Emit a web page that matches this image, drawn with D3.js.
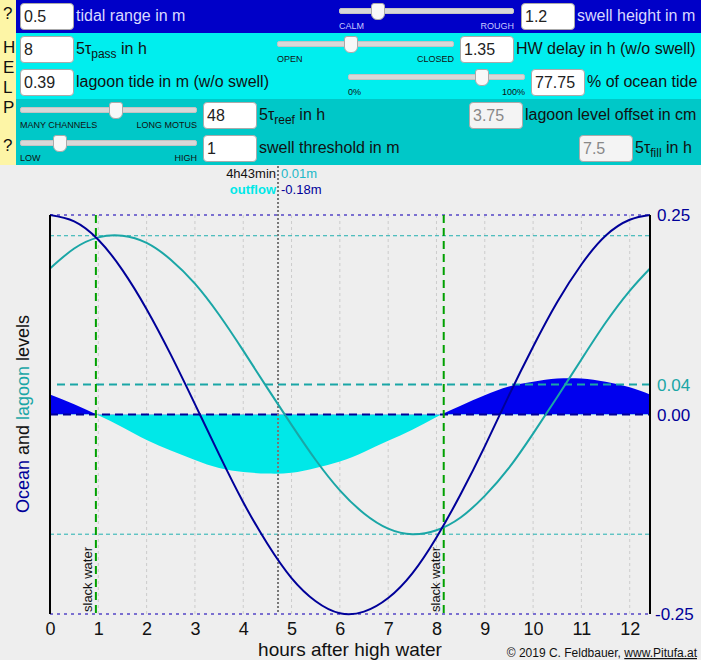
<!DOCTYPE html>
<html><head><meta charset="utf-8">
<script src="https://cdn.jsdelivr.net/npm/d3@7"></script>
<style>
body{margin:0;background:#eeeeee;font-family:"Liberation Sans",Arial,sans-serif;width:701px;height:660px;overflow:hidden;position:relative}
.row{position:absolute;left:16px;width:685px;height:33px}
.inp{position:absolute;top:3px;height:25px;width:49px;background:#fff;border:1px solid #aaa;border-radius:4px;font-size:16px;line-height:25px;padding-left:3px;box-sizing:content-box;color:#222}
.inp.dis{color:#888;background:#f4f4f4}
.lbl{position:absolute;top:7px;font-size:16px;color:#111;white-space:nowrap}
.trk{position:absolute;height:4px;background:#d8d8d8;border-radius:2px;border:1px solid #c4c4c4}
.thm{position:absolute;width:12px;height:15px;background:#f8f8f8;border:1px solid #aaa;border-radius:3px 3px 6px 6px}
.sm{position:absolute;font-size:9px;color:#111;white-space:nowrap}
#help{position:absolute;left:0;top:0;width:16px;height:165px;background:#fdf5a6;font-size:17px;text-align:center;color:#111}
</style></head><body>
<div id="help"></div>
<div id="panel"></div>
<svg id="chart" width="701" height="660" style="position:absolute;left:0;top:0"></svg>
<script>
var hours = [0,0.5,1,1.5,2,2.5,3,3.5,4,4.5,5,5.5,6,6.5,7,7.5,8,8.5,9,9.5,10,10.5,11,11.5,12,12.42]
var ocean = [0.25,0.242,0.219,0.181,0.132,0.075,0.013,-0.050,-0.110,-0.162,-0.205,-0.234,-0.249,-0.247,-0.230,-0.199,-0.154,-0.100,-0.040,0.024,0.085,0.141,0.188,0.224,0.244,0.25]
var lagoon = [0.183,0.208,0.222,0.224,0.215,0.194,0.164,0.125,0.080,0.033,-0.013,-0.057,-0.095,-0.124,-0.143,-0.150,-0.145,-0.129,-0.102,-0.067,-0.024,0.022,0.069,0.115,0.155,0.183]
var flow = [0.025,0.013,-0.001,-0.016,-0.032,-0.045,-0.057,-0.067,-0.072,-0.074,-0.073,-0.067,-0.059,-0.047,-0.033,-0.019,-0.003,0.011,0.024,0.035,0.041,0.045,0.045,0.041,0.034,0.025]
var slackTimes = [0.95, 8.15]
var hLines = [0.224, -0.15]
var meanLevel = 0.0375
var xTicks = [0,1,2,3,4,5,6,7,8,9,10,11,12]
var cursorTime = 4.72

// ---- control panel
var rows = [
  {y:0, bg:"#0000c8"},{y:33, bg:"#00eeee"},{y:66, bg:"#00eeee"},{y:99, bg:"#00c8c8"},{y:132, bg:"#00c8c8"}
]
var panel = d3.select("#panel")
rows.forEach(function(r){ panel.append("div").attr("class","row").style("top",r.y+"px").style("background",r.bg) })
var help = d3.select("#help")
;[["?",4],["H",38],["E",58],["L",78],["P",98],["?",136]].forEach(function(d){
  help.append("div").style("position","absolute").style("left","3px").style("top",d[1]+"px").text(d[0])
})
function inp(x,y,v,dis){ panel.append("div").attr("class","inp"+(dis?" dis":"")).style("left",x+"px").style("top",(y+3)+"px").text(v) }
function lbl(x,y,html,col){ panel.append("div").attr("class","lbl").style("left",x+"px").style("top",(y+7)+"px").style("color",col||"#111").html(html) }
function slider(x,y,w,t,l1,l2,col){
  panel.append("div").attr("class","trk").style("left",x+"px").style("top",(y+8)+"px").style("width",w+"px")
  panel.append("div").attr("class","thm").style("left",(t-6)+"px").style("top",(y+3)+"px")
  panel.append("div").attr("class","sm").style("left",x+"px").style("top",(y+21)+"px").style("color",col||"#111").text(l1)
  panel.append("div").attr("class","sm").style("left",(x+w+2)+"px").style("top",(y+21)+"px").style("transform","translateX(-100%)").style("color",col||"#111").text(l2)
}
inp(20,0,"0.5"); lbl(76,0,"tidal range in m","#d8d8ff")
slider(339,0,173,377,"CALM","ROUGH","#c8c8ff")
inp(521,0,"1.2"); lbl(577,0,"swell height in m","#d8d8ff")
inp(20,33,"8"); lbl(76,33,"5τ<sub style='font-size:12px'>pass</sub> in h")
slider(277,33,175,350,"OPEN","CLOSED")
inp(460,33,"1.35"); lbl(516,33,"HW delay in h (w/o swell)")
inp(20,66,"0.39"); lbl(76,66,"lagoon tide in m (w/o swell)")
slider(348,66,175,481,"0%","100%")
inp(531,66,"77.75"); lbl(587,66,"% of ocean tide")
slider(20,99,175,115,"MANY CHANNELS","LONG MOTUS")
inp(203,99,"48"); lbl(259,99,"5τ<sub style='font-size:12px'>reef</sub> in h")
inp(469,99,"3.75",true); lbl(525,99,"lagoon level offset in cm")
slider(20,132,175,59,"LOW","HIGH")
inp(203,132,"1"); lbl(259,132,"swell threshold in m")
inp(579,132,"7.5",true); lbl(635,132,"5τ<sub style='font-size:12px'>fill</sub> in h")

// ---- chart
var svg = d3.select("#chart")
var x = d3.scaleLinear().domain([0,12.42]).range([50,650])
var y = d3.scaleLinear().domain([-0.25,0.25]).range([614,215])
var navy = "#000099", teal = "#1aa6a6", cyan = "#00e8e8"
var pts = hours.map(function(h,i){ return {t:h, o:ocean[i], l:lagoon[i], f:flow[i]} })

// grid
svg.append("g").selectAll("line").data(xTicks.slice(1)).enter().append("line")
  .attr("x1",d=>x(d)).attr("x2",d=>x(d)).attr("y1",215).attr("y2",614)
  .attr("stroke","#cccccc").attr("stroke-dasharray","3,3")

// flow fill
var defs = svg.append("defs")
defs.append("clipPath").attr("id","cPos").append("rect").attr("x",0).attr("y",0).attr("width",701).attr("height",y(0))
defs.append("clipPath").attr("id","cNeg").append("rect").attr("x",0).attr("y",y(0)).attr("width",701).attr("height",300)
var area = d3.area().curve(d3.curveNatural).x(d=>x(d.t)).y0(y(0)).y1(d=>y(d.f))
svg.append("path").datum(pts).attr("d",area).attr("fill","#0000ee").attr("clip-path","url(#cPos)")
svg.append("path").datum(pts).attr("d",area).attr("fill",cyan).attr("clip-path","url(#cNeg)")

// horizontal reference lines
svg.append("line").attr("x1",50).attr("x2",650).attr("y1",y(0.25)).attr("y2",y(0.25)).attr("stroke","#7a6fd0").attr("stroke-width",2).attr("stroke-dasharray","3,4")
svg.append("line").attr("x1",50).attr("x2",650).attr("y1",y(-0.25)).attr("y2",y(-0.25)).attr("stroke","#7a6fd0").attr("stroke-width",2).attr("stroke-dasharray","3,4")
svg.selectAll(".hl").data(hLines).enter().append("line")
  .attr("x1",50).attr("x2",650).attr("y1",d=>y(d)).attr("y2",d=>y(d))
  .attr("stroke","#20b0b0").attr("stroke-dasharray","4,3")
svg.append("line").attr("x1",57).attr("x2",650).attr("y1",y(meanLevel)).attr("y2",y(meanLevel)).attr("stroke","#1aa6a6").attr("stroke-width",2).attr("stroke-dasharray","8,5")
svg.append("line").attr("x1",50).attr("x2",650).attr("y1",y(0)).attr("y2",y(0)).attr("stroke",navy).attr("stroke-width",2).attr("stroke-dasharray","8,5")

// cursor line
svg.append("line").attr("x1",x(cursorTime)).attr("x2",x(cursorTime)).attr("y1",166).attr("y2",614)
  .attr("stroke","#777").attr("stroke-width",2).attr("stroke-dasharray","2,2")

// slack water
slackTimes.forEach(function(s){
  svg.append("line").attr("x1",x(s)).attr("x2",x(s)).attr("y1",y(0.25)).attr("y2",y(-0.25))
    .attr("stroke","#00a000").attr("stroke-width",2).attr("stroke-dasharray","8,5")
  svg.append("text").attr("transform","translate("+(x(s)-4)+",612) rotate(-90)")
    .attr("font-size",13).attr("fill","#111").text("slack water")
})

// curves
var line = d3.line().curve(d3.curveNatural).x(d=>x(d.t))
svg.append("path").datum(pts).attr("d",line.y(d=>y(d.l))).attr("fill","none").attr("stroke",teal).attr("stroke-width",2)
svg.append("path").datum(pts).attr("d",d3.line().curve(d3.curveNatural).x(d=>x(d.t)).y(d=>y(d.o))).attr("fill","none").attr("stroke",navy).attr("stroke-width",2)

// axes frame
svg.append("line").attr("x1",50).attr("x2",50).attr("y1",215).attr("y2",614).attr("stroke","#000").attr("stroke-width",2)
svg.append("line").attr("x1",650).attr("x2",650).attr("y1",215).attr("y2",614).attr("stroke","#000").attr("stroke-width",2)

var nf = "Liberation Sans Narrow, Liberation Sans, sans-serif"
var xa = svg.append("g").attr("transform","translate(0,614)").call(d3.axisBottom(x).tickValues(xTicks).tickSize(0).tickPadding(8))
xa.select(".domain").remove()
xa.selectAll("text").attr("font-size",18).attr("font-family",nf).attr("fill","#111")
svg.append("text").attr("x",350).attr("y",656).attr("text-anchor","middle").attr("font-size",19).attr("font-family",nf).attr("fill","#111").text("hours after high water")

// right labels
var rl = [[0.25,"0.25",navy],[meanLevel,"0.04",teal],[0,"0.00",navy],[-0.25,"-0.25",navy]]
svg.selectAll(".rl").data(rl).enter().append("text")
  .attr("x",d=>d[1][0]=="-"?655:657).attr("y",d=>y(d[0])+6).attr("font-size",17).attr("font-family",nf).attr("fill",d=>d[2]).text(d=>d[1])

// y title
var yt = svg.append("text").attr("transform","translate(29,414) rotate(-90)").attr("text-anchor","middle").attr("font-size",18)
yt.append("tspan").attr("fill",navy).text("Ocean ")
yt.append("tspan").attr("fill","#111").text("and ")
yt.append("tspan").attr("fill",teal).text("lagoon ")
yt.append("tspan").attr("fill","#111").text("levels")

// cursor readout
var cx = x(cursorTime)
svg.append("text").attr("x",cx-2).attr("y",178).attr("text-anchor","end").attr("font-size",13).attr("fill","#111").text("4h43min")
svg.append("text").attr("x",cx+3).attr("y",178).attr("font-size",13).attr("fill","#20b8c8").text("0.01m")
svg.append("text").attr("x",cx-2).attr("y",194).attr("text-anchor","end").attr("font-size",13).attr("font-weight","bold").attr("fill",cyan).text("outflow")
svg.append("text").attr("x",cx+3).attr("y",194).attr("font-size",13).attr("fill",navy).text("-0.18m")

// footer
var ft = svg.append("text").attr("x",697).attr("y",657).attr("text-anchor","end").attr("font-size",12).attr("font-family",nf).attr("fill","#111")
ft.append("tspan").text("© 2019 C. Feldbauer, ")
ft.append("tspan").attr("text-decoration","underline").text("www.Pitufa.at")
</script></body></html>
